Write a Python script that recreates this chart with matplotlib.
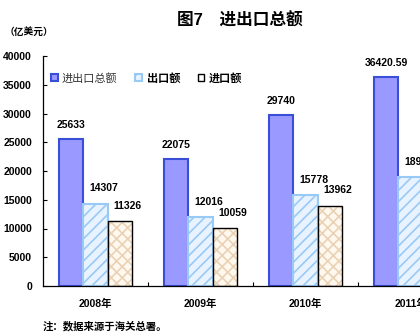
import numpy as np
import matplotlib
matplotlib.use("Agg")
import matplotlib.pyplot as plt

plt.rcParams['font.family'] = ['Liberation Sans', 'Noto Sans CJK SC']
plt.rcParams['hatch.linewidth'] = 1.2

# data
years = ["2008年", "2009年", "2010年", "2011年"]
total = [25633, 22075, 29740, 36420.59]
export = [14307, 12016, 15778, 18986]
imports = [11326, 10059, 13962, 17435]
series_names = ["进出口总额", "出口额", "进口额"]
yticks = [0, 5000, 10000, 15000, 20000, 25000, 30000, 35000, 40000]

fig = plt.figure(figsize=(4.2, 3.36), dpi=100)
# the axes run past the right edge, the 2011 group is cut off like in the original
ax = fig.add_axes([43/420, 50/336, 420/420, 230/336])

x = np.arange(len(years))
w = 0.229

b1 = ax.bar(x - w, total, w, color='#9999FF', edgecolor='#3A4FD8', linewidth=1.5, zorder=2)
b2 = ax.bar(x, export, w, color='#E8F3FF', edgecolor='#99C9F5', hatch='///', linewidth=1.5, zorder=2)
# import bars: hatch in beige, black outline drawn on top
ax.bar(x + w, imports, w, color='#FFF8EE', edgecolor='#E9D2B5', hatch='xxx', linewidth=0, zorder=2)
b3 = ax.bar(x + w, imports, w, color='none', edgecolor='black', linewidth=1, zorder=3)

def fmt(v):
    return str(v)

for xi, v in zip(x - w, total):
    ax.annotate(fmt(v), (xi, v), xytext=(0, 10), textcoords='offset points',
                ha='center', va='center', fontsize=7.5, fontweight='bold')
for xi, v in zip(x, export):
    ax.annotate(fmt(v), (xi, v), xytext=(6, 11), textcoords='offset points',
                ha='center', va='center', fontsize=7.5, fontweight='bold')
for xi, v in zip(x + w, imports):
    ax.annotate(fmt(v), (xi, v), xytext=(6, 11), textcoords='offset points',
                ha='center', va='center', fontsize=7.5, fontweight='bold')

ax.set_xlim(-0.5, 3.5)
ax.set_ylim(0, 40000)
ax.set_yticks(yticks)
ax.set_yticklabels([str(t) for t in yticks], fontsize=7.5, fontweight='bold')
ax.set_xticks(x)
ax.set_xticklabels(years, fontsize=7.5, fontweight='bold')
ax.set_xticks(x[:-1] + 0.5, minor=True)
ax.tick_params(axis='x', which='major', length=0, pad=9)
ax.tick_params(axis='x', which='minor', direction='in', length=3, width=0.8)
ax.tick_params(axis='y', direction='in', length=3, width=0.8, pad=8)
for s in ['top', 'right']:
    ax.spines[s].set_visible(False)
ax.spines['left'].set_linewidth(0.9)
ax.spines['bottom'].set_linewidth(0.9)

leg = fig.legend([b1, b2, b3], series_names, loc='center left',
                 bbox_to_anchor=(42/420, 1 - 78/336), ncol=3, fontsize=8,
                 handlelength=0.6, handleheight=0.6, handletextpad=0.4,
                 columnspacing=1.6, borderpad=0.3, frameon=True)
leg.get_frame().set_facecolor('white')
leg.get_frame().set_edgecolor('white')
leg.get_frame().set_alpha(1)
leg.get_texts()[0].set_color('#333333')
for t in leg.get_texts()[1:]:
    t.set_fontweight('bold')

fig.text(0.57, 0.94, "图7　进出口总额", ha='center', va='center', fontsize=12, fontweight='bold')
fig.text(0.01, 0.905, "（亿美元）", ha='left', va='center', fontsize=7, fontweight='bold')
fig.text(43/420, 0.03, "注：数据来源于海关总署。", ha='left', va='center', fontsize=7.5, fontweight='bold')

fig.savefig("out.png", dpi=100)
